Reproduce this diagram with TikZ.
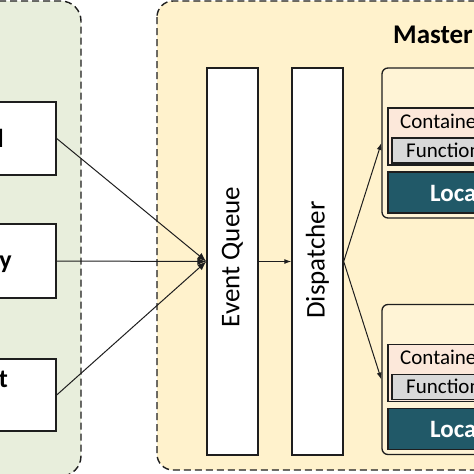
\documentclass[tikz,border=0pt]{standalone}
\usepackage{fontspec}
\setmainfont{Carlito}
\usetikzlibrary{arrows.meta}
\definecolor{panelgreen}{RGB}{232,238,220}
\definecolor{panelorange}{RGB}{255,242,204}
\definecolor{innerfill}{RGB}{255,244,214}
\definecolor{contfill}{RGB}{252,232,218}
\definecolor{funcfill}{RGB}{217,217,217}
\definecolor{localfill}{RGB}{33,89,104}
\definecolor{linec}{RGB}{30,30,30}
\tikzset{
  panel/.style={draw=linec, line width=1.4pt, dash pattern=on 7pt off 4pt},
  boxw/.style={draw=linec, line width=1.4pt, fill=white, inner sep=0pt},
  innerbox/.style={draw=linec, line width=1.3pt, fill=innerfill, rounded corners=6pt, inner sep=0pt},
  contbox/.style={draw=linec, line width=1.2pt, fill=contfill, inner sep=0pt},
  funcbox/.style={draw=linec, line width=1.2pt, fill=funcfill, inner sep=0pt},
  localbox/.style={draw=linec, line width=1.2pt, fill=localfill, inner sep=0pt},
  bigtxt/.style={font=\fontsize{26}{30}\selectfont\bfseries, inner sep=0pt},
  vtxt/.style={font=\fontsize{27}{31}\selectfont, rotate=90, inner sep=0pt},
  smalltxt/.style={font=\fontsize{21}{24}\selectfont, inner sep=0pt},
  localtxt/.style={font=\fontsize{25}{28}\selectfont\bfseries, text=white, inner sep=0pt},
  conn/.style={draw=linec, line width=1pt},
  bigarrow/.style={conn, -{Latex[length=9pt,width=7pt]}},
  smallarrow/.style={conn, -{Latex[length=7pt,width=5pt]}}
}
\begin{document}
\begin{tikzpicture}[x=1pt,y=-1pt]
\useasboundingbox (0,0) rectangle (474,474);
\clip (0,0) rectangle (474,474);
% panels
\draw[panel, fill=panelgreen, rounded corners=20pt] (-40,1) rectangle (81,476);
\draw[panel, fill=panelorange, rounded corners=16pt] (157,1) rectangle (520,470);
% left boxes
\node[boxw, minimum width=86pt, minimum height=73pt] (b1) at (13,138.5) {};
\node[boxw, minimum width=86pt, minimum height=74pt] (b2) at (13,261) {};
\node[boxw, minimum width=86pt, minimum height=72pt] (b3) at (13,395) {};
\node[bigtxt, anchor=east] (t1) at (4,138) {l};
\node[bigtxt, anchor=base east] (t2) at (12,268) {y};
\node[bigtxt, anchor=base east] (t3) at (8,387) {t};
% queue and dispatcher
\node[boxw, minimum width=51pt, minimum height=387pt] (eq) at (232.5,261.5) {};
\node[vtxt] (eqt) at (232.5,257) {Event Queue};
\node[boxw, minimum width=51pt, minimum height=387pt] (disp) at (317.5,261.5) {};
\node[vtxt] (dispt) at (317.5,260) {Dispatcher};
% master label
\node[font=\fontsize{27}{31}\selectfont\bfseries, anchor=base west, inner sep=0pt] (master) at (393,43) {Master};
% worker 1
\node[innerbox, minimum width=148pt, minimum height=150pt] (in1) at (456,143) {};
\node[contbox, minimum width=142pt, minimum height=57pt] (c1) at (459,136.5) {};
\node[smalltxt, anchor=base west] (c1t) at (400,128) {Containe};
\node[funcbox, minimum width=138pt, minimum height=25pt] (f1) at (461,150.5) {};
\node[smalltxt, anchor=base west] (f1t) at (406,157) {Function};
\node[localbox, minimum width=142pt, minimum height=41pt] (l1) at (459,192.5) {};
\node[localtxt, anchor=base west] (l1t) at (430,201) {Loca};
% worker 2
\node[innerbox, minimum width=148pt, minimum height=150pt] (in2) at (456,379.5) {};
\node[contbox, minimum width=142pt, minimum height=57pt] (c2) at (459,373) {};
\node[smalltxt, anchor=base west] (c2t) at (400,364.5) {Containe};
\node[funcbox, minimum width=138pt, minimum height=25pt] (f2) at (461,387) {};
\node[smalltxt, anchor=base west] (f2t) at (406,393.5) {Function};
\node[localbox, minimum width=142pt, minimum height=41pt] (l2) at (459,429) {};
\node[localtxt, anchor=base west] (l2t) at (430,437.5) {Loca};
% connectors
\draw[bigarrow] (b1.east) -- (eq.west);
\draw[bigarrow] (b2.east) -- (eq.west);
\draw[bigarrow] (b3.east) -- (eq.west);
\draw[smallarrow] (eq.east) -- (disp.west);
\draw[smallarrow] (disp.east) -- (in1.west);
\draw[smallarrow] (disp.east) -- (in2.west);
\end{tikzpicture}
\end{document}
